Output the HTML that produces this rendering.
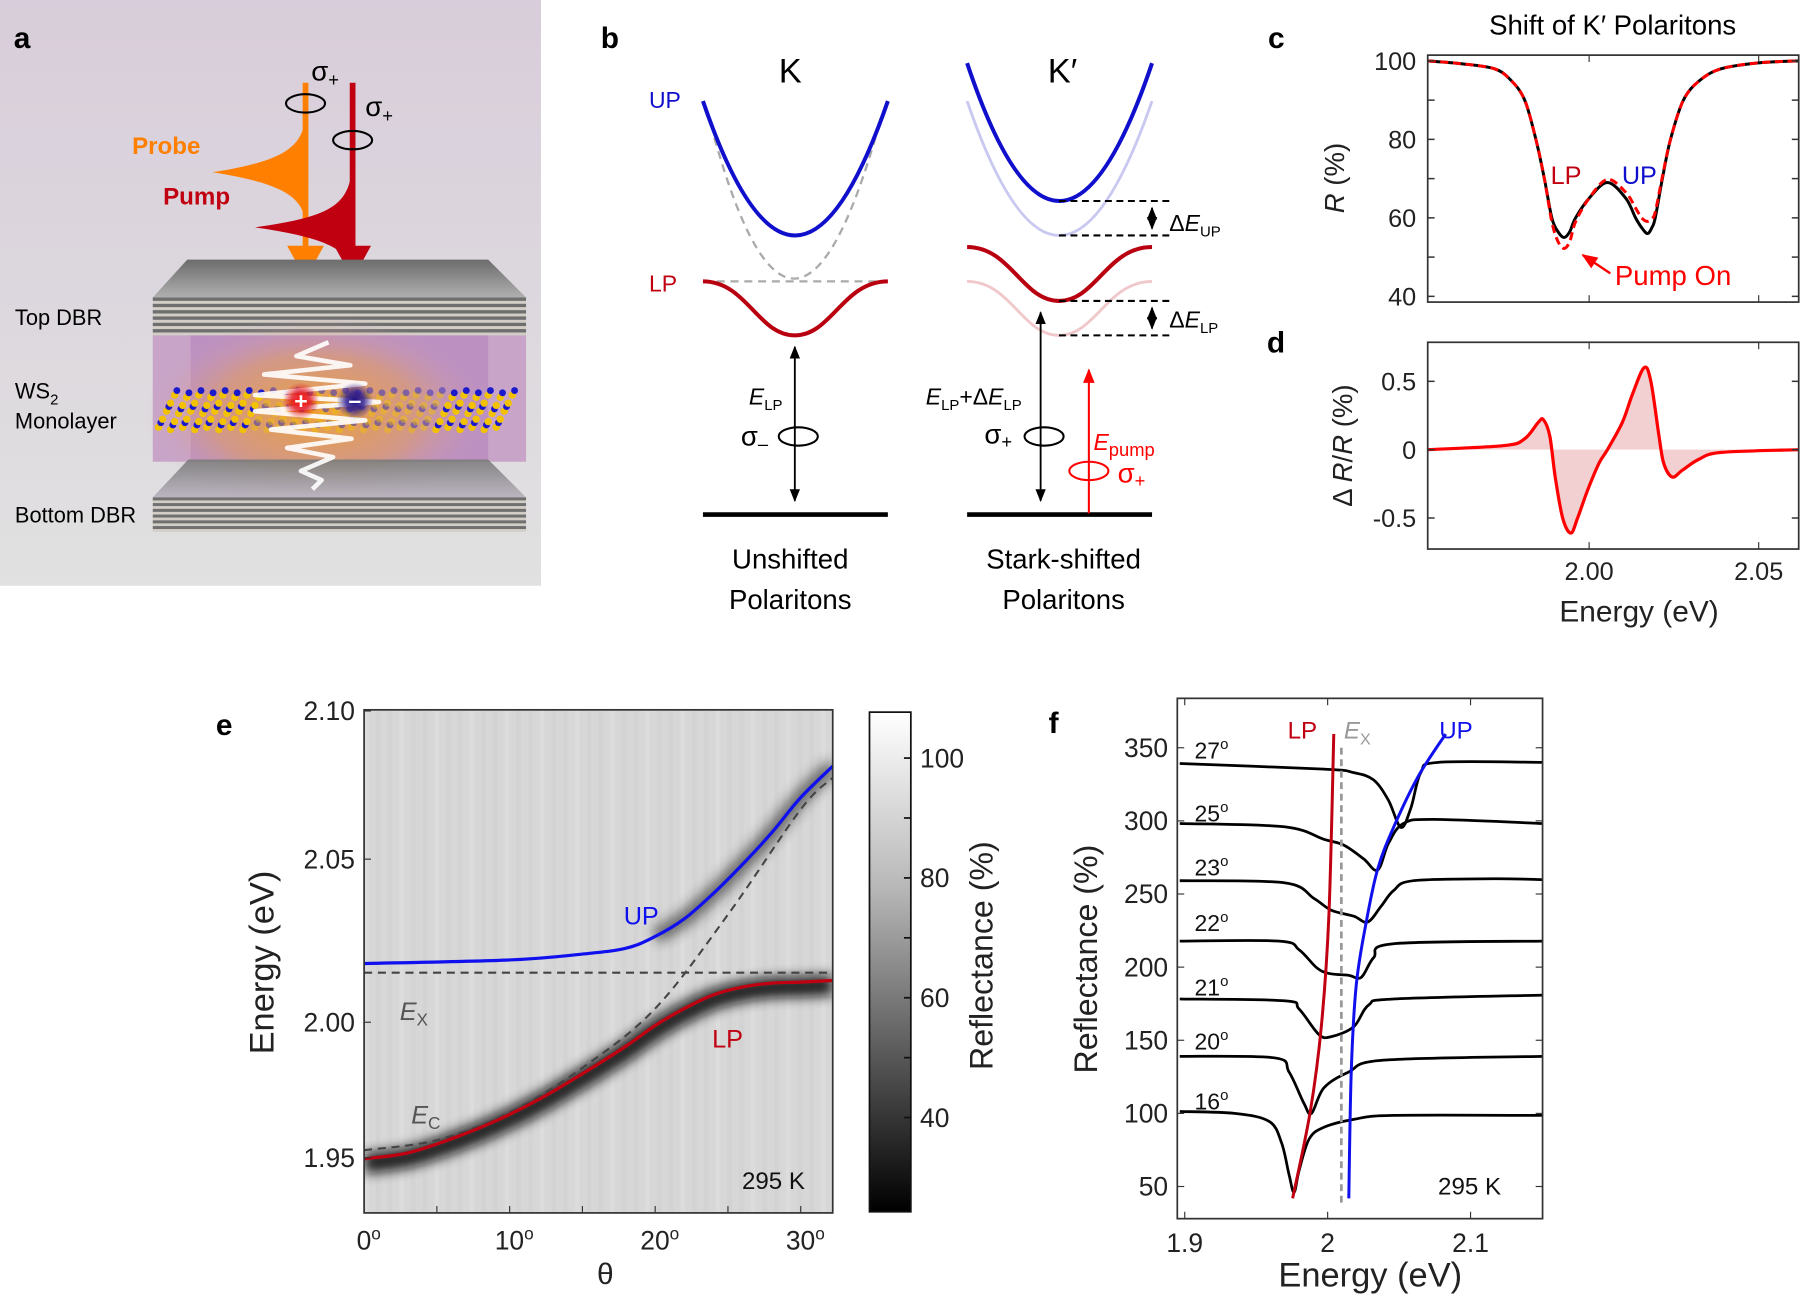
<!DOCTYPE html>
<html><head><meta charset="utf-8">
<style>
html,body{margin:0;padding:0;background:#fff;}
svg{display:block;font-family:"Liberation Sans",sans-serif;}
</style></head>
<body>
<svg id="fig" width="1801" height="1297" viewBox="0 0 1568 1129.2" xmlns="http://www.w3.org/2000/svg">
<defs>
 <linearGradient id="bgA" x1="0" y1="0" x2="0" y2="1"><stop offset="0" stop-color="#d8cdda"/><stop offset="1" stop-color="#e1e1e1"/></linearGradient>
 <linearGradient id="topFace" x1="0" y1="0" x2="0" y2="1"><stop offset="0" stop-color="#6c6c6c"/><stop offset="1" stop-color="#b0b0b0"/></linearGradient>
 <linearGradient id="botFace" x1="0" y1="0" x2="0" y2="1"><stop offset="0" stop-color="#7a7a7a"/><stop offset="1" stop-color="#b8b0bc"/></linearGradient>
 <radialGradient id="glow" cx="0.5" cy="0.5" r="0.5"><stop offset="0" stop-color="#f0a030" stop-opacity="0.95"/><stop offset="0.6" stop-color="#e8a050" stop-opacity="0.5"/><stop offset="1" stop-color="#c9a0c9" stop-opacity="0"/></radialGradient>
 <radialGradient id="plus" cx="0.5" cy="0.5" r="0.5"><stop offset="0" stop-color="#ff1010"/><stop offset="0.5" stop-color="#e01020" stop-opacity="0.8"/><stop offset="1" stop-color="#e01020" stop-opacity="0"/></radialGradient>
 <radialGradient id="minus" cx="0.5" cy="0.5" r="0.5"><stop offset="0" stop-color="#1a0a80"/><stop offset="0.5" stop-color="#2a1a90" stop-opacity="0.8"/><stop offset="1" stop-color="#3020a0" stop-opacity="0"/></radialGradient>
 <linearGradient id="cbar" x1="0" y1="0" x2="0" y2="1"><stop offset="0" stop-color="#ffffff"/><stop offset="0.35" stop-color="#b8b8b8"/><stop offset="0.7" stop-color="#555"/><stop offset="1" stop-color="#000"/></linearGradient>
 <filter id="blur6" x="-20%" y="-20%" width="140%" height="140%"><feGaussianBlur stdDeviation="5"/></filter>
 <clipPath id="clipE"><rect x="317" y="618" width="408" height="438"/></clipPath>
 <marker id="ah" viewBox="0 0 10 10" refX="9" refY="5" markerWidth="7" markerHeight="7" orient="auto-start-reverse"><path d="M0,1 L10,5 L0,9 Z" fill="#000"/></marker>
 <marker id="ahr" viewBox="0 0 10 10" refX="9" refY="5" markerWidth="7" markerHeight="7" orient="auto"><path d="M0,1 L10,5 L0,9 Z" fill="#f00"/></marker>
</defs>

<!-- PANEL A -->
<g>
 <rect x="0" y="0" width="471" height="510" fill="url(#bgA)"/>
 <text x="12" y="42" font-size="26" font-weight="bold">a</text>
 <path d="M266,100 C264,128 248,140 185,150 C248,160 264,172 266,195 Z" fill="#ff8000"/>
 <line x1="266" y1="72" x2="266" y2="222" stroke="#ff8000" stroke-width="5"/>
 <polygon points="250,214 282,214 266,243" fill="#ff8000"/>
 <path d="M307,140 C305,178 292,188 222,198 C292,208 305,220 307,240 Z" fill="#c00010"/>
 <line x1="307" y1="72" x2="307" y2="222" stroke="#c00010" stroke-width="5"/>
 <polygon points="291,214 323,214 307,243" fill="#c00010"/>
 <ellipse cx="266" cy="90" rx="17" ry="8" fill="none" stroke="#000" stroke-width="1.8"/>
 <ellipse cx="307" cy="122" rx="17" ry="8" fill="none" stroke="#000" stroke-width="1.8"/>
 <text x="271" y="70" font-size="24">σ<tspan font-size="16" dy="5">+</tspan></text>
 <text x="318" y="101" font-size="24">σ<tspan font-size="16" dy="5">+</tspan></text>
 <text x="115" y="134" font-size="21" font-weight="bold" fill="#ff8000">Probe</text>
 <text x="142" y="178" font-size="21" font-weight="bold" fill="#c00010">Pump</text>
 <polygon points="163,226 425,226 458,259 133,259" fill="url(#topFace)"/>
 <g id="topStripes"></g>
 <rect x="133" y="292" width="325" height="110" fill="#c8a4c8"/>
 <rect x="166" y="292" width="259" height="110" fill="#bc90c0"/>
 <ellipse cx="275" cy="360" rx="150" ry="85" fill="url(#glow)"/>
 <polygon points="164,400 425,400 458,433 133,433" fill="url(#botFace)" opacity="0.9"/>
 <g id="botStripes"></g>
 <g id="atoms"></g>
 <path d="M286,298 L258,310 L305,318 L230,326 L318,334 L222,344 L330,350 L222,358 L318,366 L236,374 L306,382 L250,390 L290,398 L262,410 L280,418 L272,426" fill="none" stroke="#fff" stroke-width="4" stroke-linejoin="round" opacity="0.9"/>
 <circle cx="262" cy="349" r="16" fill="url(#plus)"/>
 <circle cx="309" cy="349" r="16" fill="url(#minus)"/>
 <text x="262" y="356" font-size="20" font-weight="bold" fill="#fff" text-anchor="middle">+</text>
 <text x="309" y="355" font-size="20" font-weight="bold" fill="#fff" text-anchor="middle">–</text>
 <text x="13" y="283" font-size="19">Top DBR</text>
 <text x="13" y="347" font-size="19">WS<tspan font-size="13" dy="5">2</tspan></text>
 <text x="13" y="373" font-size="19">Monolayer</text>
 <text x="13" y="455" font-size="19">Bottom DBR</text>
</g>

<!-- PANEL B -->
<g>
 <text x="523" y="42" font-size="26" font-weight="bold">b</text>
 <text x="688" y="72" font-size="30" text-anchor="middle">K</text>
 <text x="925" y="72" font-size="30" text-anchor="middle">K′</text>
 <text x="565" y="94" font-size="20" fill="#1010cc">UP</text>
 <text x="565" y="254" font-size="20" fill="#c00010">LP</text>
 <path d="M622,120 Q692,370 765,110" fill="none" stroke="#aaa" stroke-width="2" stroke-dasharray="7,5"/>
 <line x1="612" y1="245" x2="773" y2="245" stroke="#aaa" stroke-width="2" stroke-dasharray="7,5"/>
 <path d="M612,88 Q692,322 773,88" fill="none" stroke="#1010cc" stroke-width="3.5"/>
 <path d="M612,245 C650,245 660,292 692,292 C724,292 734,245 773,245" fill="none" stroke="#b80010" stroke-width="3.5"/>
 <line x1="612" y1="448" x2="773" y2="448" stroke="#000" stroke-width="4"/>
 <line x1="692" y1="436" x2="692" y2="302" stroke="#000" stroke-width="1.6" marker-start="url(#ah)" marker-end="url(#ah)"/>
 <text x="652" y="352" font-size="20" font-style="italic">E<tspan font-size="13" dy="5" font-style="normal">LP</tspan></text>
 <ellipse cx="695" cy="380" rx="17" ry="8" fill="none" stroke="#000" stroke-width="1.8"/>
 <text x="645" y="388" font-size="24">σ<tspan font-size="16" dy="4">–</tspan></text>

 <path d="M842,88 Q922,322 1003,88" fill="none" stroke="#c8c8f0" stroke-width="2.5"/>
 <path d="M842,245 C880,245 890,292 922,292 C954,292 964,245 1003,245" fill="none" stroke="#f0c8cc" stroke-width="2.5"/>
 <path d="M842,55 Q922,295 1003,55" fill="none" stroke="#1010cc" stroke-width="3.5"/>
 <path d="M842,215 C880,215 890,262 922,262 C954,262 964,215 1003,215" fill="none" stroke="#b80010" stroke-width="3.5"/>
 <g stroke="#000" stroke-width="1.8" stroke-dasharray="6,4">
  <line x1="922" y1="175" x2="1022" y2="175"/><line x1="922" y1="205" x2="1022" y2="205"/>
  <line x1="922" y1="262" x2="1022" y2="262"/><line x1="922" y1="292" x2="1022" y2="292"/>
 </g>
 <line x1="1003" y1="181" x2="1003" y2="199" stroke="#000" stroke-width="1.6" marker-start="url(#ah)" marker-end="url(#ah)"/>
 <line x1="1003" y1="268" x2="1003" y2="286" stroke="#000" stroke-width="1.6" marker-start="url(#ah)" marker-end="url(#ah)"/>
 <text x="1018" y="201" font-size="20">Δ<tspan font-style="italic">E</tspan><tspan font-size="13" dy="5">UP</tspan></text>
 <text x="1018" y="285" font-size="20">Δ<tspan font-style="italic">E</tspan><tspan font-size="13" dy="5">LP</tspan></text>
 <line x1="842" y1="448" x2="1003" y2="448" stroke="#000" stroke-width="4"/>
 <line x1="906" y1="436" x2="906" y2="272" stroke="#000" stroke-width="1.6" marker-start="url(#ah)" marker-end="url(#ah)"/>
 <text x="806" y="352" font-size="20"><tspan font-style="italic">E</tspan><tspan font-size="13" dy="5">LP</tspan><tspan dy="-5">+Δ</tspan><tspan font-style="italic">E</tspan><tspan font-size="13" dy="5">LP</tspan></text>
 <ellipse cx="909" cy="380" rx="17" ry="8" fill="none" stroke="#000" stroke-width="1.8"/>
 <text x="857" y="386" font-size="24">σ<tspan font-size="16" dy="4">+</tspan></text>
 <line x1="948" y1="447" x2="948" y2="322" stroke="#f00" stroke-width="1.8" marker-end="url(#ahr)"/>
 <text x="952" y="392" font-size="20" fill="#f00"><tspan font-style="italic">E</tspan><tspan font-size="16" dy="5">pump</tspan></text>
 <ellipse cx="948" cy="410" rx="17" ry="8" fill="none" stroke="#f00" stroke-width="1.8"/>
 <text x="973" y="420" font-size="24" fill="#f00">σ<tspan font-size="16" dy="4">+</tspan></text>
 <text x="688" y="495" font-size="24" text-anchor="middle">Unshifted</text>
 <text x="688" y="530" font-size="24" text-anchor="middle">Polaritons</text>
 <text x="926" y="495" font-size="24" text-anchor="middle">Stark-shifted</text>
 <text x="926" y="530" font-size="24" text-anchor="middle">Polaritons</text>
</g>

<g id="panelC"></g>
<g id="panelD"></g>
<g id="panelE"></g>
<g id="panelF"></g>
</svg>

<script>
// ---------- Panel c data ----------
const cEnergy = [1.9524,1.962,1.972,1.977,1.981,1.9843,1.9868,1.989,1.9908,1.9926,1.9943,1.996,2.000,2.0054,2.0108,2.0137,2.0155,2.0172,2.0185,2.0195,2.0216,2.024,2.0278,2.0326,2.039,2.05,2.0618];
const cRoff   = [100,99.3,98,95,90,80,70,60,56.5,55,56.5,60,65,69,65,60,57.5,56,57.5,60,70,80,90,95,98,99.5,100];
const cRon    = [100,99.3,98,95,90,80,70,59,54,52.2,54,59,65,69.8,66.5,62.5,60,59.1,59.8,61.5,70.5,80,90,95,98,99.5,100];
const cYTicks = [40,60,80,100];
// ---------- Panel d data ----------
const dEnergy = [1.9524,1.975,1.981,1.985,1.9865,1.9884,1.990,1.9922,1.9946,1.9966,1.9995,2.0029,2.0054,2.0098,2.0127,2.0162,2.0182,2.0206,2.022,2.0245,2.0275,2.0324,2.039,2.0618];
const dDR     = [0,0.03,0.08,0.2,0.22,0.1,-0.2,-0.5,-0.61,-0.5,-0.3,-0.1,0,0.2,0.4,0.6,0.5,0.1,-0.1,-0.2,-0.15,-0.07,-0.02,0];
const dYTicks = [-0.5,0,0.5];
const dYLabels = ["-0.5","0","0.5"];
const cdXTicks = [2.00,2.05];
const cdXLabels = ["2.00","2.05"];
// ---------- Panel e data ----------
const eThetaUP = [0,10,15,18,20,22,24,26,28,30,32.2];
const eEnergyUP = [2.018,2.0191,2.0209,2.0227,2.0263,2.0317,2.0395,2.0484,2.0589,2.0708,2.0814];
const eThetaLP = [0,3,6,9,12,15,18,20,22,24,26,28,30,32.2];
const eEnergyLP = [1.9496,1.9518,1.957,1.9635,1.9715,1.981,1.9912,1.9988,2.0042,2.0084,2.0108,2.012,2.0123,2.0128];
const eThetaC = [0,5,10,15,20,25,30,32.2];
const eEnergyC = [1.9528,1.9565,1.9667,1.9832,2.0042,2.033,2.0668,2.0775];
const eExciton = 2.0152;
const eYTicks = [1.95,2.00,2.05,2.10];
const eYLabels = ["1.95","2.00","2.05","2.10"];
const eXTicks = [0,10,20,30];
const cbTicks = [40,60,80,100];
// ---------- Panel f data ----------
const fAngles = ["27","25","23","22","21","20","16"];
const f27E=[1.8965,1.9974,2.0183,2.0322,2.0426,2.0513,2.0583,2.0652,2.0774,2.1504], f27R=[339.2,335.4,333,328,314,295.5,309,333,340,340];
const f25E=[1.8965,1.9696,1.9974,2.0113,2.0252,2.035,2.0426,2.053,2.0739,2.1504], f25R=[298.2,296,287.4,283.4,274,266.4,284.7,298.2,301,298.2];
const f23E=[1.8965,1.9696,1.9904,2.0026,2.0183,2.028,2.0374,2.0461,2.06,2.1157,2.1504], f23R=[259.1,257.7,247,238.9,234.8,230.8,241.6,252.3,259.1,260.4,259.8];
const f22E=[1.8965,1.9661,1.98,1.9922,2.0009,2.0148,2.0235,2.0322,2.0461,2.1504], f22R=[217.8,217.8,211.9,199.7,195.7,194.4,193,206.5,216,217.8];
const f21E=[1.8965,1.9696,1.98,1.9939,2.0026,2.0183,2.0287,2.0461,2.1504], f21R=[178.2,177,171.4,153.9,152.5,159.3,174.1,178.2,180.9];
const f20E=[1.8965,1.9626,1.973,1.9835,1.9887,1.9974,2.0148,2.0391,2.1504], f20R=[139,138,128.3,106.7,100,117.5,128.3,136.4,139];
const f16E=[1.8965,1.9348,1.9591,1.9678,1.973,1.9765,1.98,1.987,1.9974,2.0183,2.0461,2.1504], f16R=[101.3,100,94.5,79.7,58.1,46,60.8,82.4,90.5,95.9,98.6,98.6];
const fLabelVals = [349,306,269,231,187,150,109];
const fLPE=[1.9755,1.9878,1.9957,2.0009,2.0043], fLPR=[41.9,101,160.6,236,359.4];
const fUPE=[2.0148,2.0165,2.02,2.027,2.035,2.0461,2.0635,2.0826], fUPR=[41.9,128,187.6,230.8,267,295.5,330.6,359.4];
const fExciton = 2.0096;
const fYTicks=[50,100,150,200,250,300,350];
const fXTicks=[1.9,2.0,2.1];
const fXLabels=["1.9","2","2.1"];

const NS="http://www.w3.org/2000/svg";
function mk(parent,tag,attrs,text){const e=document.createElementNS(NS,tag);for(const k in attrs)e.setAttribute(k,attrs[k]);if(text!==undefined)e.textContent=text;parent.appendChild(e);return e;}
function smooth(pts){
  let d="M"+pts[0][0].toFixed(2)+","+pts[0][1].toFixed(2);
  for(let i=0;i<pts.length-1;i++){
    const p0=pts[Math.max(0,i-1)],p1=pts[i],p2=pts[i+1],p3=pts[Math.min(pts.length-1,i+2)];
    const c1=[p1[0]+(p2[0]-p0[0])/6,p1[1]+(p2[1]-p0[1])/6];
    const c2=[p2[0]-(p3[0]-p1[0])/6,p2[1]-(p3[1]-p1[1])/6];
    d+=" C"+c1[0].toFixed(2)+","+c1[1].toFixed(2)+" "+c2[0].toFixed(2)+","+c2[1].toFixed(2)+" "+p2[0].toFixed(2)+","+p2[1].toFixed(2);
  }
  return d;
}
function linInterp(v,xs,ys){
  if(v<=xs[0])return ys[0]+(v-xs[0])*(ys[1]-ys[0])/(xs[1]-xs[0]);
  for(let i=0;i<xs.length-1;i++){if(v<=xs[i+1])return ys[i]+(v-xs[i])*(ys[i+1]-ys[i])/(xs[i+1]-xs[i]);}
  const n=xs.length-1;return ys[n]+(v-xs[n])*(ys[n]-ys[n-1])/(xs[n]-xs[n-1]);
}

// ---------- panel a decorations ----------
(function(){
  const ts=document.getElementById('topStripes'), bs=document.getElementById('botStripes');
  for(let i=0;i<6;i++){
    mk(ts,'rect',{x:133,y:259+i*5.5,width:325,height:3,fill:'#6f6f6f'});
    mk(ts,'rect',{x:133,y:262+i*5.5,width:325,height:2.5,fill:'#d2cdc5'});
  }
  for(let i=0;i<6;i++){
    mk(bs,'rect',{x:133,y:433+i*5,width:325,height:2.7,fill:'#707070'});
    mk(bs,'rect',{x:133,y:435.7+i*5,width:325,height:2.3,fill:'#d2cdc5'});
  }
  const at=document.getElementById('atoms');
  for(let j=0;j<29;j++){
    const x0=138+j*10.5, op=(x0>215&&x0<370)?0.45:1;
    for(let k=0;k<5;k++){
      const x=x0+k*3.5, y=372-k*7+(j%2)*2;
      if(x>452) continue;
      mk(at,'circle',{cx:x,cy:y,r:3.2,fill:'#f2c200',opacity:op});
      if(k%2===0) mk(at,'circle',{cx:x+2,cy:y-4,r:3,fill:'#1a1acc',opacity:op});
    }
  }
})();

// ---------- panel c ----------
(function(){
  const g=document.getElementById('panelC');
  const L=1243,R=1566,T=48,B=263;
  const xC=e=>L+(e-1.9524)*(R-L)/(2.0618-1.9524);
  const yC=r=>258-(r-40)*(205/60);
  mk(g,'text',{x:1104,y:42,'font-size':26,'font-weight':'bold',},'c');
  mk(g,'text',{x:1404,y:30,'font-size':24,'text-anchor':'middle',},'Shift of K′ Polaritons');
  const ln1=mk(g,'path',{d:smooth(cEnergy.map((e,i)=>[xC(e),yC(cRoff[i])])),fill:'none',stroke:'#000','stroke-width':2.6});
  
  
  const ln2=mk(g,'path',{d:smooth(cEnergy.map((e,i)=>[xC(e),yC(cRon[i])])),fill:'none',stroke:'#f00','stroke-width':2.6,'stroke-dasharray':'7,4'});
  
  
  mk(g,'rect',{x:L,y:T,width:R-L,height:B-T,fill:'none',stroke:'#333','stroke-width':1.5});
  cYTicks.forEach(v=>{
    const y=yC(v);
    mk(g,'line',{x1:L,x2:L+6,y1:y,y2:y,stroke:'#333','stroke-width':1.3});
    mk(g,'line',{x1:R-6,x2:R,y1:y,y2:y,stroke:'#333','stroke-width':1.3});
    const tx=mk(g,'text',{x:L-10,y:y+8,'font-size':22,'text-anchor':'end',fill:'#222'},String(v));
    
    
  });
  [50,70,90].forEach(v=>{const y=yC(v);mk(g,'line',{x1:L,x2:L+6,y1:y,y2:y,stroke:'#333','stroke-width':1.3});mk(g,'line',{x1:R-6,x2:R,y1:y,y2:y,stroke:'#333','stroke-width':1.3});});
  cdXTicks.forEach(v=>{mk(g,'line',{x1:xC(v),x2:xC(v),y1:B,y2:B-6,stroke:'#333'});mk(g,'line',{x1:xC(v),x2:xC(v),y1:T,y2:T+6,stroke:'#333'});});
  mk(g,'text',{x:1170,y:155,'font-size':24,'text-anchor':'middle',transform:'rotate(-90 1170 155)',fill:'#222',}).innerHTML='<tspan font-style="italic">R</tspan> (%)';
  mk(g,'text',{x:1350,y:160,'font-size':22,fill:'#c00010'},'LP');
  mk(g,'text',{x:1412,y:160,'font-size':22,fill:'#1010cc'},'UP');
  mk(g,'text',{x:1406,y:248,'font-size':24,fill:'#f00',},'Pump On');
  mk(g,'line',{x1:1402,y1:238,x2:1378,y2:222,stroke:'#f00','stroke-width':2,'marker-end':'url(#ahr)'});
})();

// ---------- panel d ----------
(function(){
  const g=document.getElementById('panelD');
  const L=1243,R=1566,T=298,B=478;
  const xD=e=>L+(e-1.9524)*(R-L)/(2.0618-1.9524);
  const yD=v=>391.5-v*119;
  mk(g,'text',{x:1103,y:307,'font-size':26,'font-weight':'bold',},'d');
  const pts=dEnergy.map((e,i)=>[xD(e),yD(dDR[i])]);
  const p=smooth(pts);
  const fill=mk(g,'path',{d:p+" L"+xD(dEnergy[dEnergy.length-1])+","+yD(0)+" L"+xD(dEnergy[0])+","+yD(0)+" Z",fill:'#f2cfd0',stroke:'none'});
  
  
  const ln=mk(g,'path',{d:p,fill:'none',stroke:'#f00','stroke-width':2.8});
  
  
  mk(g,'rect',{x:L,y:T,width:R-L,height:B-T,fill:'none',stroke:'#333','stroke-width':1.5});
  dYTicks.forEach((v,i)=>{
    const y=yD(v);
    mk(g,'line',{x1:L,x2:L+6,y1:y,y2:y,stroke:'#333','stroke-width':1.3});
    mk(g,'line',{x1:R-6,x2:R,y1:y,y2:y,stroke:'#333','stroke-width':1.3});
    const tx=mk(g,'text',{x:L-10,y:y+8,'font-size':22,'text-anchor':'end',fill:'#222'},dYLabels[i]);
    
    
  });
  cdXTicks.forEach((v,i)=>{
    mk(g,'line',{x1:xD(v),x2:xD(v),y1:B,y2:B-6,stroke:'#333'});
    mk(g,'line',{x1:xD(v),x2:xD(v),y1:T,y2:T+6,stroke:'#333'});
    const tx=mk(g,'text',{x:xD(v),y:505,'font-size':22,'text-anchor':'middle',fill:'#222'},cdXLabels[i]);
    
    
  });
  mk(g,'text',{x:1427,y:541,'font-size':26,'text-anchor':'middle',fill:'#222',},'Energy (eV)');
  mk(g,'text',{x:1177,y:388,'font-size':24,'text-anchor':'middle',transform:'rotate(-90 1177 388)',fill:'#222',}).innerHTML='Δ <tspan font-style="italic">R</tspan>/<tspan font-style="italic">R</tspan> (%)';
})();

// ---------- panel e ----------
(function(){
  const g=document.getElementById('panelE');
  const L=317,R=725,T=618,B=1056;
  const xE=th=>L+th*(R-L)/32.2;
  const yKnotE=[1.95,2.00,2.05,2.10], yKnotP=[1008,890,748,619];
  const yE=e=>linInterp(e,yKnotE,yKnotP);
  mk(g,'text',{x:188,y:640,'font-size':26,'font-weight':'bold',},'e');
  const hm=mk(g,'g',{'clip-path':'url(#clipE)'});
  
  
  mk(hm,'rect',{x:L,y:T,width:R-L,height:B-T,fill:'#d7d7d7'});
  for(let i=0;i<40;i++){mk(hm,'rect',{x:L+i*10.2,y:T,width:4,height:B-T,fill:(i%3===0)?'#e2e2e2':'#cfcfcf',opacity:0.5});}
  const lpPts=eThetaLP.map((t,i)=>[xE(t),yE(eEnergyLP[i])+4]);
  mk(hm,'path',{d:smooth(lpPts),fill:'none',stroke:'#111','stroke-width':18,filter:'url(#blur6)',opacity:0.9});
  const upHi=eThetaUP.map((t,i)=>[xE(t),yE(eEnergyUP[i])]).filter((p,i)=>eThetaUP[i]>=20);
  mk(hm,'path',{d:smooth(upHi),fill:'none',stroke:'#222','stroke-width':14,filter:'url(#blur6)',opacity:0.6});
  const ex=mk(g,'line',{x1:L,x2:R,y1:yE(eExciton),y2:yE(eExciton),stroke:'#444','stroke-width':1.8,'stroke-dasharray':'7,5'});
  
  
  const cav=mk(g,'path',{d:smooth(eThetaC.map((t,i)=>[xE(t),yE(eEnergyC[i])])),fill:'none',stroke:'#444','stroke-width':1.8,'stroke-dasharray':'7,5'});
  
  
  const up=mk(g,'path',{d:smooth(eThetaUP.map((t,i)=>[xE(t),yE(eEnergyUP[i])])),fill:'none',stroke:'#1010ee','stroke-width':2.8});
  
  
  const lp=mk(g,'path',{d:smooth(eThetaLP.map((t,i)=>[xE(t),yE(eEnergyLP[i])])),fill:'none',stroke:'#c00010','stroke-width':2.8});
  
  
  mk(g,'rect',{x:L,y:T,width:R-L,height:B-T,fill:'none',stroke:'#333','stroke-width':1.5});
  eYTicks.forEach((v,i)=>{
    const y=yE(v);
    mk(g,'line',{x1:L,x2:L+6,y1:y,y2:y,stroke:'#333'});
    const tx=mk(g,'text',{x:L-8,y:y+8,'font-size':23,'text-anchor':'end',fill:'#222'},eYLabels[i]);
    
    
  });
  for(let th=0;th<=30;th+=5){mk(g,'line',{x1:xE(th),x2:xE(th),y1:B,y2:B-6,stroke:'#333'});}
  eXTicks.forEach(v=>{
    const tx=mk(g,'text',{x:xE(v)+4,y:1088,'font-size':23,'text-anchor':'middle',fill:'#222'});
    tx.innerHTML=v+'<tspan font-size="15" dy="-9">o</tspan>';
    
    
  });
  mk(g,'text',{x:527,y:1118,'font-size':26,'text-anchor':'middle',fill:'#222',},'θ');
  mk(g,'text',{x:238,y:838,'font-size':30,'text-anchor':'middle',transform:'rotate(-90 238 838)',fill:'#222',},'Energy (eV)');
  mk(g,'text',{x:543,y:805,'font-size':22,fill:'#1010ee'},'UP');
  mk(g,'text',{x:620,y:912,'font-size':22,fill:'#c00010'},'LP');
  mk(g,'text',{x:348,y:888,'font-size':22,fill:'#555'}).innerHTML='<tspan font-style="italic">E</tspan><tspan font-size="15" dy="5">X</tspan>';
  mk(g,'text',{x:358,y:978,'font-size':22,fill:'#555'}).innerHTML='<tspan font-style="italic">E</tspan><tspan font-size="15" dy="5">C</tspan>';
  mk(g,'text',{x:646,y:1035,'font-size':21,fill:'#111'},'295 K');
  const cbT=620,cbB=1055,cbL=757,cbR=793;
  const yCB=v=>linInterp(v,[40,100],[973,660]);
  mk(g,'rect',{x:cbL,y:cbT,width:cbR-cbL,height:cbB-cbT,fill:'url(#cbar)',stroke:'#111','stroke-width':1.5,});
  cbTicks.forEach(v=>{
    const y=yCB(v);
    mk(g,'line',{x1:cbR-6,x2:cbR,y1:y,y2:y,stroke:'#111','stroke-width':1.5});
    const tx=mk(g,'text',{x:cbR+8,y:y+8,'font-size':23,fill:'#222'},String(v));
    
    
  });
  [50,70,90].forEach(v=>{const y=yCB(v);mk(g,'line',{x1:cbR-6,x2:cbR,y1:y,y2:y,stroke:'#111','stroke-width':1.5});});
  mk(g,'text',{x:864,y:832,'font-size':28,'text-anchor':'middle',transform:'rotate(-90 864 832)',fill:'#222',},'Reflectance (%)');
})();

// ---------- panel f ----------
(function(){
  const g=document.getElementById('panelF');
  const L=1025,R=1343,T=608,B=1061;
  const xF=e=>L+(e-1.8948)*(R-L)/(2.1504-1.8948);
  const yF=v=>1033-(v-50)*1.2733;
  mk(g,'text',{x:913,y:638,'font-size':26,'font-weight':'bold',},'f');
  const series=[[f27E,f27R],[f25E,f25R],[f23E,f23R],[f22E,f22R],[f21E,f21R],[f20E,f20R],[f16E,f16R]];
  series.forEach((s,k)=>{
    const ln=mk(g,'path',{d:smooth(s[0].map((e,i)=>[xF(e),yF(s[1][i])])),fill:'none',stroke:'#000','stroke-width':2.4});
    
    
    const tx=mk(g,'text',{x:1040,y:yF(fLabelVals[k])+8,'font-size':20,fill:'#111'});
    tx.innerHTML=fAngles[k]+'<tspan font-size="13" dy="-8">o</tspan>';
    
    
  });
  const ex=mk(g,'line',{x1:xF(fExciton),x2:xF(fExciton),y1:yF(39),y2:yF(350),stroke:'#999','stroke-width':2.4,'stroke-dasharray':'6,4'});
  
  
  const lp=mk(g,'path',{d:smooth(fLPE.map((e,i)=>[xF(e),yF(fLPR[i])])),fill:'none',stroke:'#c00010','stroke-width':2.6});
  
  
  const up=mk(g,'path',{d:smooth(fUPE.map((e,i)=>[xF(e),yF(fUPR[i])])),fill:'none',stroke:'#1010ee','stroke-width':2.6});
  
  
  mk(g,'rect',{x:L,y:T,width:R-L,height:B-T,fill:'none',stroke:'#333','stroke-width':1.5});
  fYTicks.forEach(v=>{
    const y=yF(v);
    mk(g,'line',{x1:L,x2:L+6,y1:y,y2:y,stroke:'#333'});
    mk(g,'line',{x1:R-6,x2:R,y1:y,y2:y,stroke:'#333'});
    const tx=mk(g,'text',{x:L-8,y:y+8,'font-size':23,'text-anchor':'end',fill:'#222'},String(v));
    
    
  });
  fXTicks.forEach((v,i)=>{
    mk(g,'line',{x1:xF(v),x2:xF(v),y1:B,y2:B-6,stroke:'#333'});
    mk(g,'line',{x1:xF(v),x2:xF(v),y1:T,y2:T+6,stroke:'#333'});
    const tx=mk(g,'text',{x:xF(v),y:1090,'font-size':23,'text-anchor':'middle',fill:'#222'},fXLabels[i]);
    
    
  });
  mk(g,'text',{x:1193,y:1120,'font-size':30,'text-anchor':'middle',fill:'#222',},'Energy (eV)');
  mk(g,'text',{x:955,y:835,'font-size':28,'text-anchor':'middle',transform:'rotate(-90 955 835)',fill:'#222',},'Reflectance (%)');
  mk(g,'text',{x:1121,y:643,'font-size':21,fill:'#c00010'},'LP');
  mk(g,'text',{x:1170,y:643,'font-size':21,fill:'#999'}).innerHTML='<tspan font-style="italic">E</tspan><tspan font-size="14" dy="5">X</tspan>';
  mk(g,'text',{x:1253,y:643,'font-size':21,fill:'#1010ee'},'UP');
  mk(g,'text',{x:1252,y:1040,'font-size':21,fill:'#111'},'295 K');
})();
</script>
</body></html>
